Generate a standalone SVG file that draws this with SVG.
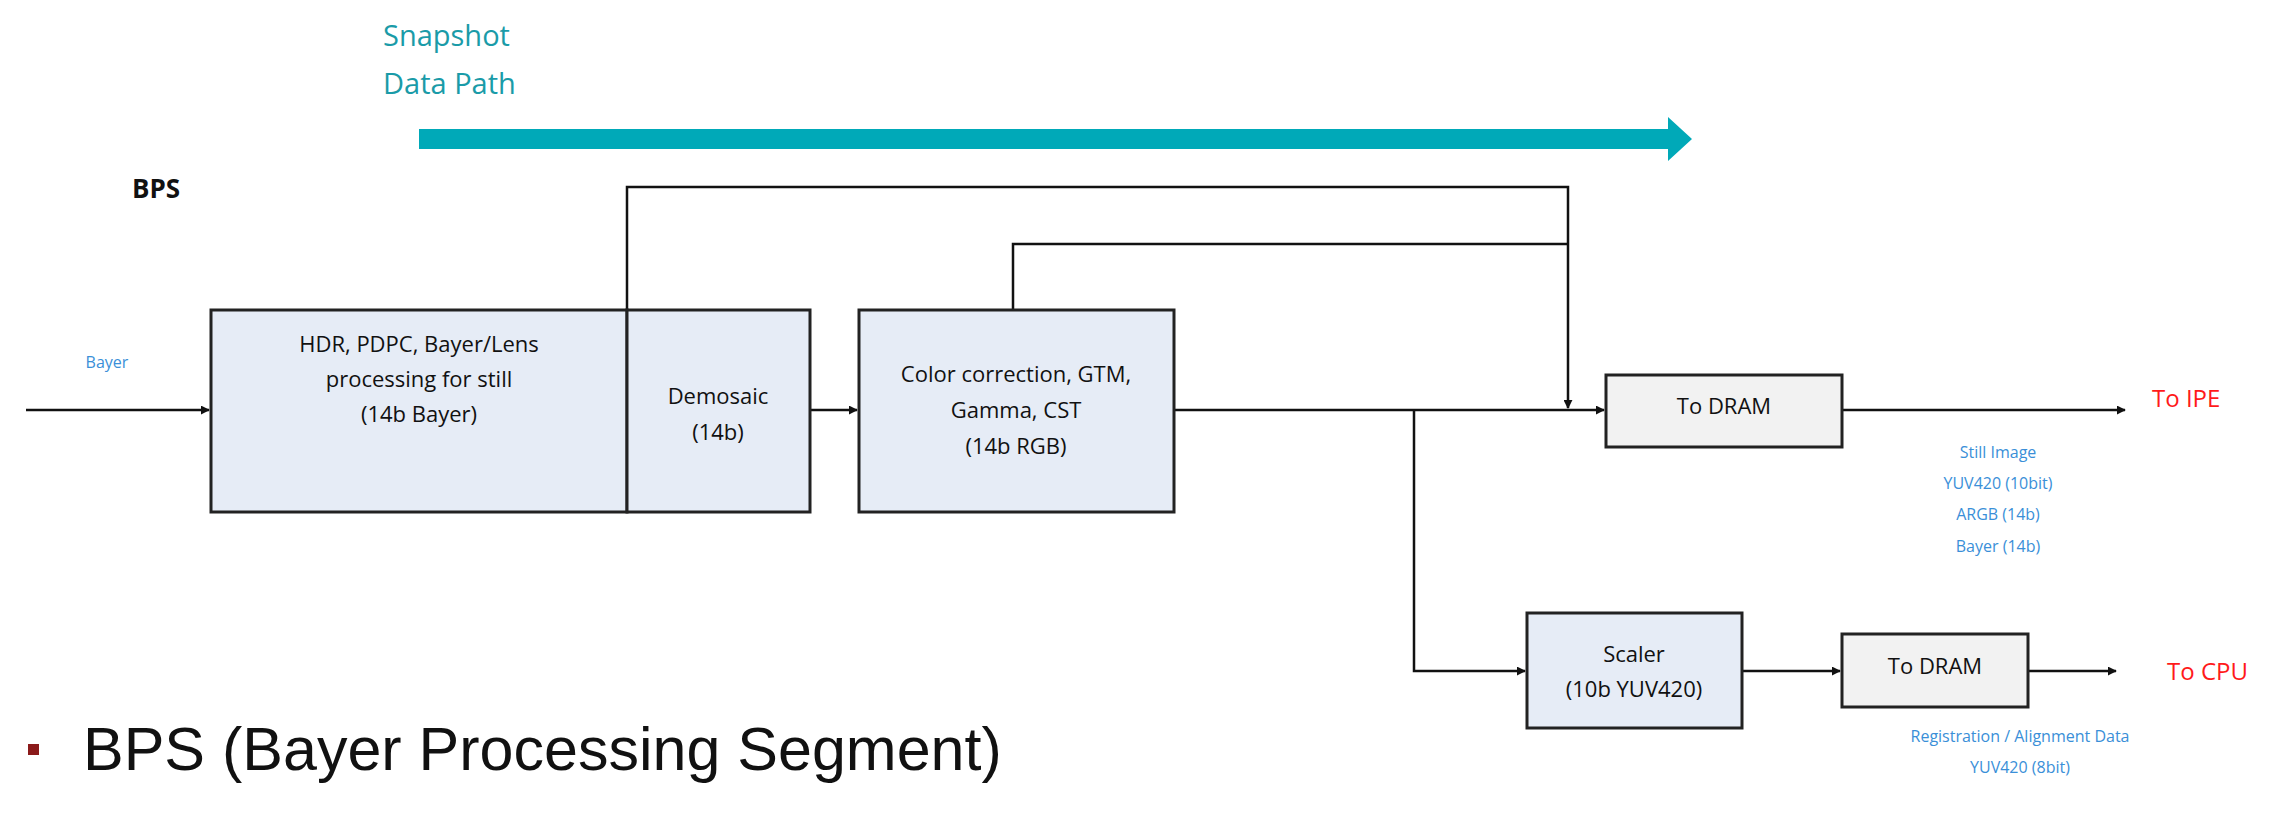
<svg xmlns="http://www.w3.org/2000/svg" width="2296" height="834" viewBox="0 0 2296 834">
<style>
text{font-family:"Open Sans","Liberation Sans",sans-serif}
.box{fill:#e6ecf6;stroke:#222;stroke-width:3}
.dram{fill:#f2f2f2;stroke:#222;stroke-width:3}
.t{font-size:22px;fill:#111;text-anchor:middle}
.b{font-size:16px;fill:#3a8fd8;text-anchor:middle}
.r{font-size:24px;fill:#ff1a1a}
.ln{fill:none;stroke:#111;stroke-width:2.5}
.big{font-family:"Liberation Sans",Arial,sans-serif;font-size:61px;fill:#111}
</style>
<defs>
<marker id="ah" viewBox="0 0 10 10" refX="9" refY="5" markerWidth="9" markerHeight="9" markerUnits="userSpaceOnUse" orient="auto"><path d="M0,0L10,5L0,10z" fill="#111"/></marker>
</defs>
<rect width="2296" height="834" fill="#fff"/>
<text x="383" y="46" font-size="29" fill="#1a9ba8">Snapshot</text>
<text x="383" y="94" font-size="29" fill="#1a9ba8">Data Path</text>
<path d="M419,129H1668V117L1692,139L1668,161V149H419z" fill="#00a9b8"/>
<text x="132" y="198" font-size="26" font-weight="bold" fill="#111">BPS</text>
<g id="connectors">
<path class="ln" d="M26,410H209" marker-end="url(#ah)"/>
<path class="ln" d="M810,410H857" marker-end="url(#ah)"/>
<path class="ln" d="M1174,410H1604" marker-end="url(#ah)"/>
<path class="ln" d="M627,310V187H1568V408" marker-end="url(#ah)"/>
<path class="ln" d="M1013,310V244H1568"/>
<path class="ln" d="M1842,410H2125" marker-end="url(#ah)"/>
<path class="ln" d="M1414,410V671H1525" marker-end="url(#ah)"/>
<path class="ln" d="M1742,671H1840" marker-end="url(#ah)"/>
<path class="ln" d="M2028,671H2116" marker-end="url(#ah)"/>
</g>
<text x="107" y="368" class="b">Bayer</text>
<g id="hdr"><rect class="box" x="211" y="310" width="416" height="202"/>
<text class="t" x="419" y="352">HDR, PDPC, Bayer/Lens</text><text class="t" x="419" y="387">processing for still</text><text class="t" x="419" y="422">(14b Bayer)</text></g>
<g id="demosaic"><rect class="box" x="627" y="310" width="183" height="202"/>
<text class="t" x="718" y="404">Demosaic</text><text class="t" x="718" y="440">(14b)</text></g>
<g id="cc"><rect class="box" x="859" y="310" width="315" height="202"/>
<text class="t" x="1016" y="382">Color correction, GTM,</text><text class="t" x="1016" y="418">Gamma, CST</text><text class="t" x="1016" y="454">(14b RGB)</text></g>
<g id="dram1"><rect class="dram" x="1606" y="375" width="236" height="72"/>
<text class="t" x="1724" y="414">To DRAM</text></g>
<g id="scaler"><rect class="box" x="1527" y="613" width="215" height="115"/>
<text class="t" x="1634" y="662">Scaler</text><text class="t" x="1634" y="697">(10b YUV420)</text></g>
<g id="dram2"><rect class="dram" x="1842" y="634" width="186" height="73"/>
<text class="t" x="1935" y="674">To DRAM</text></g>
<text class="r" x="2152" y="407">To IPE</text>
<text class="r" x="2167" y="680">To CPU</text>
<text class="b" x="1998" y="458">Still Image</text>
<text class="b" x="1998" y="489">YUV420 (10bit)</text>
<text class="b" x="1998" y="520">ARGB (14b)</text>
<text class="b" x="1998" y="552">Bayer (14b)</text>
<text class="b" x="2020" y="742">Registration / Alignment Data</text>
<text class="b" x="2020" y="773">YUV420 (8bit)</text>
<rect x="28" y="744" width="11" height="11" fill="#8b1a1a"/>
<text x="83" y="770" class="big">BPS (Bayer Processing Segment)</text>
</svg>
